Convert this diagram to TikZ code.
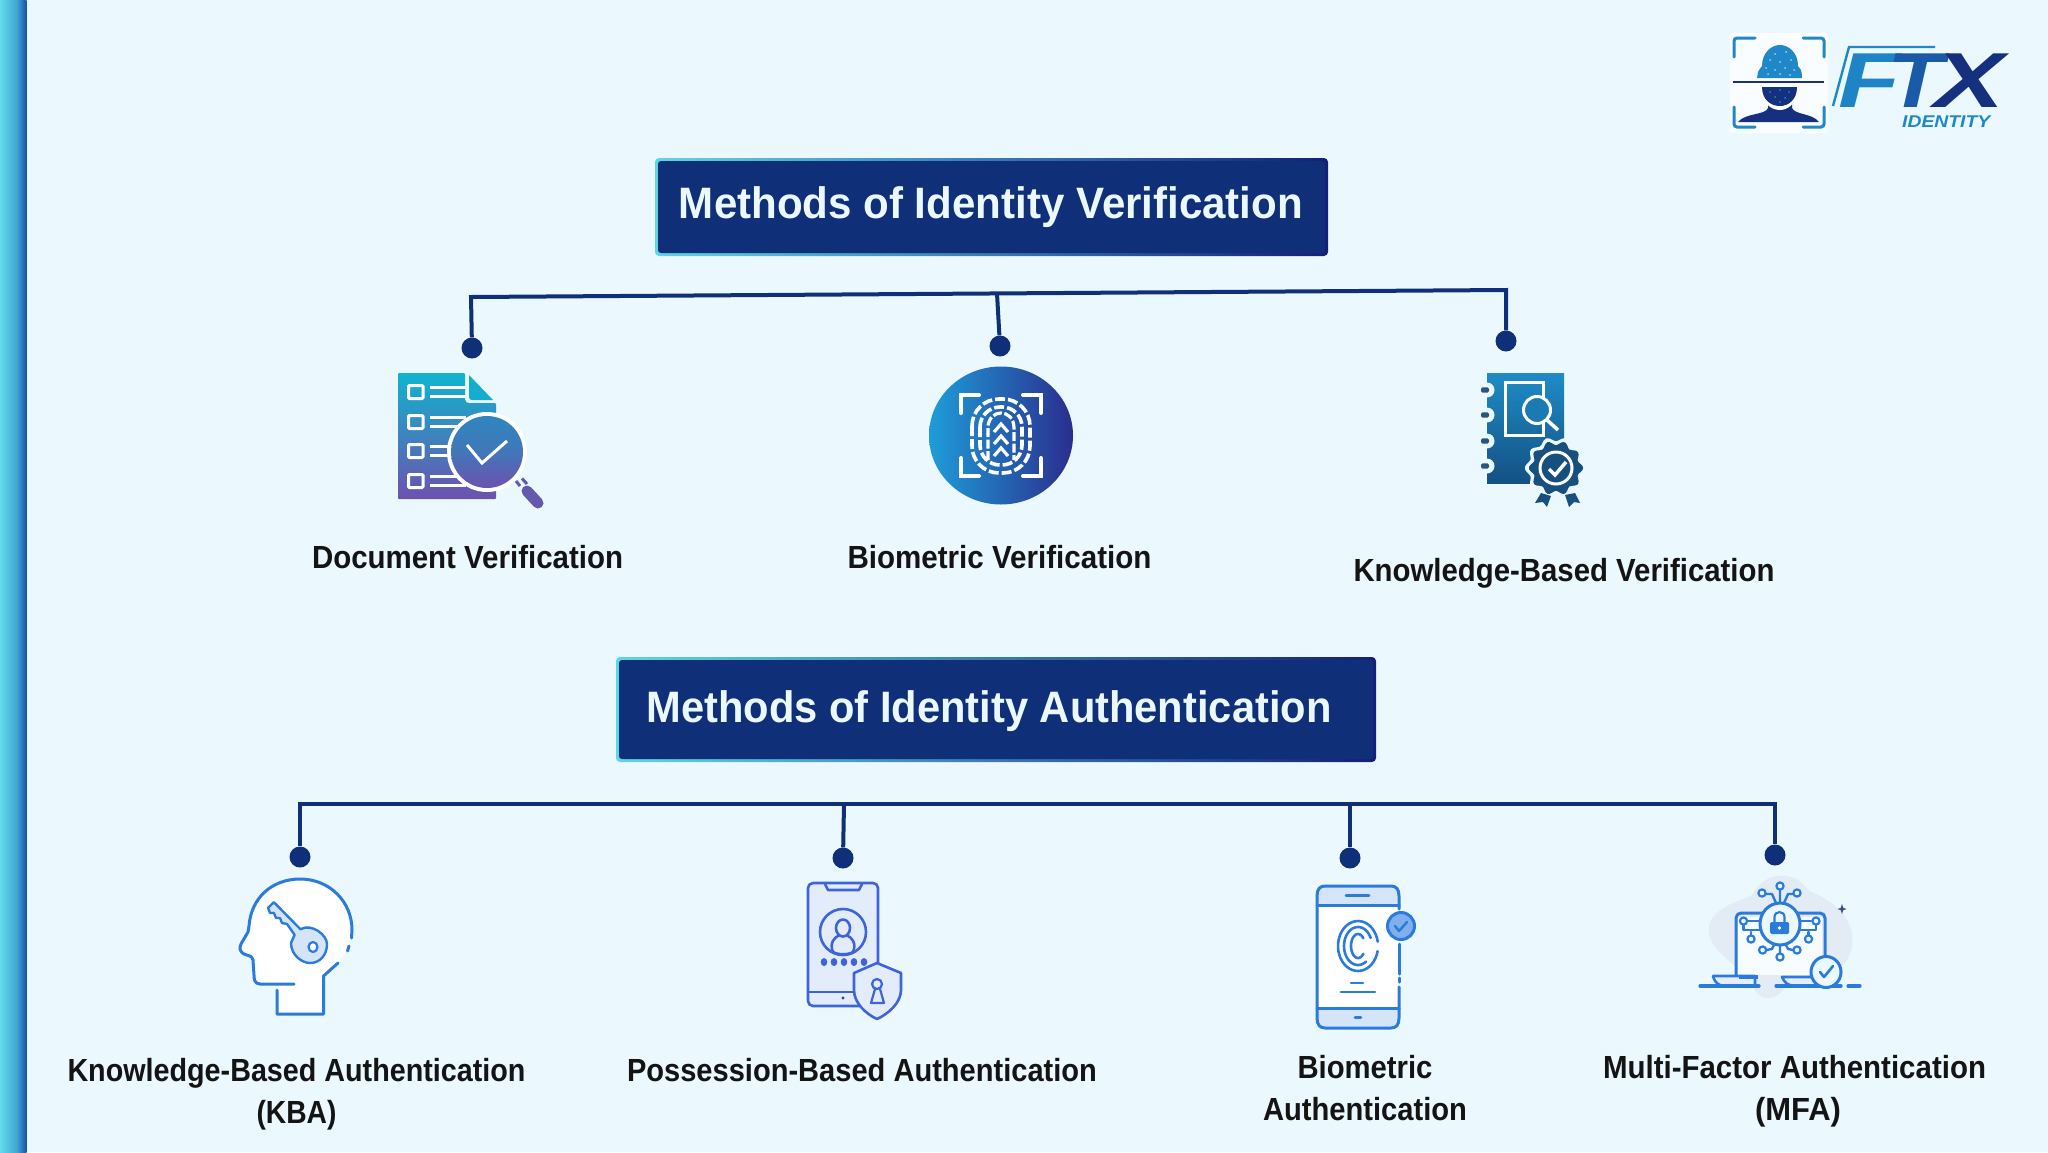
\documentclass[tikz,border=0pt]{standalone}
\usepackage{fontspec}
\usepackage{graphicx}
\setmainfont{Liberation Sans}
\usetikzlibrary{calc}
\definecolor{bgc}{HTML}{EBF9FF}
\definecolor{navy}{HTML}{0F2F78}
\definecolor{cyanb}{HTML}{5FD6E6}
\definecolor{midb}{HTML}{1A58AE}
\definecolor{deepb}{HTML}{141E7C}
\definecolor{barA}{HTML}{62DCE9}
\definecolor{barB}{HTML}{3FA5D2}
\definecolor{barC}{HTML}{1B4FA8}
\definecolor{lab}{HTML}{141414}
\definecolor{docA}{HTML}{10B4CF}
\definecolor{docB}{HTML}{2F86BE}
\definecolor{docC}{HTML}{6C52AE}
\definecolor{hnd}{HTML}{6459B0}
\definecolor{fpA}{HTML}{1E9DD8}
\definecolor{fpB}{HTML}{1B74BE}
\definecolor{fpC}{HTML}{2A2E8E}
\definecolor{nbT}{HTML}{1E8CC6}
\definecolor{nbB}{HTML}{145084}
\definecolor{nbD}{HTML}{17507F}
\definecolor{ic}{HTML}{2B7BDD}
\definecolor{icl}{HTML}{D5E5F8}
\definecolor{blob}{HTML}{E3EBF5}
\definecolor{ip}{HTML}{3F63D8}
\definecolor{ipl}{HTML}{E2ECFA}
\definecolor{logoB}{HTML}{1E88C8}
\definecolor{logoM}{HTML}{1A5BA8}
\definecolor{logoN}{HTML}{14307F}
\newcommand{\fitw}[2]{\resizebox{#1pt}{\height}{#2}}
\tikzset{
  headfill/.style={fill=navy,rounded corners=3pt,draw=none,inner sep=0pt},
  headtext/.style={anchor=base,inner sep=0pt,text=bgc,font=\fontsize{44}{50}\selectfont\bfseries},
  labeltext/.style={anchor=base,inner sep=0pt,text=lab,font=\fontsize{32}{38}\selectfont\bfseries},
  dotnode/.style={circle,fill=navy,inner sep=0pt,minimum size=21pt},
  conn/.style={draw=navy,line width=4pt,line join=miter},
  wl/.style={draw=white,line width=3pt},
  icline/.style={draw=ic,line width=3pt,line cap=round,line join=round},
  ipline/.style={draw=ip,line width=2.6pt,line cap=round,line join=round},
  fingerdash/.style={draw=white,line width=3.6pt,dash pattern=on 10pt off 3pt},
}
\begin{document}
\begin{tikzpicture}[x=1pt,y=-1pt]
\useasboundingbox (0,0) rectangle (2048,1152);
\fill[bgc] (0,0) rectangle (2048,1152);
\shade[left color=barA,right color=barB] (0,0) rectangle (17,1152);
\shade[left color=barB,right color=barC] (16.8,0) rectangle (26.5,1152);

% ---------- heading 1
\shade[rounded corners=4pt,left color=cyanb,middle color=midb,right color=deepb] (655,158) rectangle (1328,256);
\node[headfill,minimum width=667pt,minimum height=92pt] (h1) at (991.5,207) {};
\node[headtext] (h1t) at (991,218) {\fitw{624}{Methods of Identity Verification}};
% ---------- heading 2
\shade[rounded corners=4pt,left color=cyanb,middle color=midb,right color=deepb] (616,657) rectangle (1376,762);
\node[headfill,minimum width=754pt,minimum height=99pt] (h2) at (996,709.5) {};
\node[headtext] (h2t) at (989,722) {\fitw{685}{Methods of Identity Authentication}};

% ---------- connectors top
\coordinate (t1a) at (471,297);
\coordinate (t1b) at (1506,290);
\coordinate (t1m) at (997,293.5);
\node[dotnode] (d1) at (472,348) {};
\node[dotnode] (d2) at (1000,346) {};
\node[dotnode] (d3) at (1506,341) {};
\draw[conn] (d1) -- (t1a) -- (t1b) -- (d3);
\draw[conn] (t1m) -- (d2);
% ---------- connectors bottom
\coordinate (t2a) at (300,804);
\coordinate (t2b) at (1775,804);
\coordinate (t2c) at (844,804);
\coordinate (t2d) at (1350,804);
\node[dotnode] (e1) at (300,857) {};
\node[dotnode] (e2) at (843,858) {};
\node[dotnode] (e3) at (1350,858) {};
\node[dotnode] (e4) at (1775,855) {};
\draw[conn] (e1) -- (t2a) -- (t2b) -- (e4);
\draw[conn] (t2c) -- (e2);
\draw[conn] (t2d) -- (e3);

% ---------- labels
\node[labeltext] (l1) at (467.5,568) {\fitw{311}{Document Verification}};
\node[labeltext] (l2) at (999.5,568) {\fitw{304}{Biometric Verification}};
\node[labeltext] (l3) at (1564,581.5) {\fitw{421}{Knowledge-Based Verification}};
\node[labeltext] (l4) at (296.5,1081) {\fitw{458}{Knowledge-Based Authentication}};
\node[labeltext] (l4b) at (296.5,1123) {\fitw{80}{(KBA)}};
\node[labeltext] (l5) at (862,1081) {\fitw{470}{Possession-Based Authentication}};
\node[labeltext] (l6) at (1365,1078) {\fitw{135}{Biometric}};
\node[labeltext] (l6b) at (1365,1120.5) {\fitw{204}{Authentication}};
\node[labeltext] (l7) at (1794.5,1078) {\fitw{383}{Multi-Factor Authentication}};
\node[labeltext] (l7b) at (1798,1120.5) {\fitw{86}{(MFA)}};

% ---------- icon: document
\shade[top color=docA,middle color=docB,bottom color=docC,rounded corners=1pt]
  (398,373) -- (465,373) -- (465,398) .. controls (465,402) and (467,403) .. (470,403) -- (496,403) -- (496,499) -- (398,499) -- cycle;
\fill[docA!85!docB] (469,375) -- (493,400) -- (472,400) .. controls (470,400) and (469,399) .. (469,397) -- cycle;
\foreach \yy in {384,414,443,473}{
  \draw[wl,line width=3pt,rounded corners=1pt] (408.5,\yy+1.5) rectangle (423,\yy+14.5);
  \draw[wl] (430,\yy+3) -- (466,\yy+3) (430,\yy+12) -- (466,\yy+12);
}
\fill[white] (487,452) circle (40);
\shade[top color=docB,bottom color=docC,middle color=docB!70!docC] (487,452) circle (36);
\draw[white,line width=3pt,line join=miter] (467,445) -- (482,463) -- (507,441);
\draw[hnd,line width=3pt] (516,481) -- (520,486) (522,478.5) -- (527,484);
\draw[hnd,line width=11pt,line cap=round] (527,491) -- (538,503);

% ---------- icon: fingerprint
\shade[left color=fpA,middle color=fpB,right color=fpC] (1001,435.5) ellipse [x radius=72,y radius=69];
\draw[wl,line width=4pt,line cap=round]
  (961,413) -- (961,395) -- (979,395)
  (1041,413) -- (1041,395) -- (1023,395)
  (961,458) -- (961,476) -- (979,476)
  (1041,458) -- (1041,476) -- (1023,476);
\draw[fingerdash,rounded corners=27pt] (972,399) rectangle (1030,473);
\draw[fingerdash,rounded corners=20pt] (980,407) rectangle (1022,465);
\draw[fingerdash,line width=3.2pt,dash pattern=on 9pt off 2.5pt] (988,460) -- (988,428) .. controls (988,408) and (1014,408) .. (1014,428) -- (1014,460);
\draw[white,line width=3.2pt] (994,432) -- (1001,424) -- (1008,432) (994,444) -- (1001,436) -- (1008,444) (994,456) -- (1001,448) -- (1008,456);

% ---------- icon: notebook
\shade[top color=nbT,bottom color=nbB] (1487,373) rectangle (1564,483);
\foreach \yy in {390,415,441,466}{
  \fill[bgc] (1487,\yy) circle (7.5);
  \fill[nbD!85!gray,rounded corners=1.5pt] (1481,\yy-2.7) rectangle (1489,\yy+2.7);
}
\draw[wl] (1505,382) rectangle (1543,435);
\fill[nbT!70!nbB] (1537,410) circle (14.5);
\draw[wl] (1537,410) circle (13.5);
\draw[wl,line width=3.5pt] (1547,420) -- (1558,430);
\fill[bgc] plot[smooth cycle,samples=73,domain=0:355] ({1556+(29+2.2*cos(10*\x))*cos(\x)},{468+(29+2.2*cos(10*\x))*sin(\x)});
\fill[nbD] plot[smooth cycle,samples=73,domain=0:355] ({1556+(25+2.2*cos(10*\x))*cos(\x)},{468+(25+2.2*cos(10*\x))*sin(\x)});
\draw[wl] (1556,468) circle (16);
\draw[white,line width=3.5pt,line join=miter] (1549,469) -- (1555,475) -- (1566,462);
\fill[nbD] (1541,493) -- (1535,503) -- (1543,502) -- (1547,507) -- (1551,496) -- cycle;
\fill[nbD] (1565,495) -- (1575,493) -- (1580,503) -- (1574,502) -- (1569,507) -- cycle;

% ---------- icon: head with key
\fill[white] (277,1014) -- (277,985) -- (260,984) .. controls (254,984) and (254,978) .. (254,977) -- (252,957) -- (242,953) -- (240,947) -- (249,930) .. controls (249,900) and (272,879) .. (300,879) .. controls (330,879) and (352,902) .. (352,930) .. controls (352,950) and (340,960) .. (323.5,975) -- (323.5,1014) -- cycle;
\draw[icline] (294,984) -- (260,984) .. controls (254,984) and (254,978) .. (254,975) -- (253,960) .. controls (252,955) and (248,956) .. (244,954) .. controls (240,952) and (239,948) .. (241,944) -- (248,932) -- (249,926) .. controls (251,898) and (272,879) .. (300,879) .. controls (330,879) and (352,902) .. (352,930) -- (351.5,938);
\draw[icline] (349,946) -- (347.5,951);
\draw[icline] (338,963) -- (323.5,976) -- (323.5,1014) -- (277,1014) -- (277,990);
\draw[icline,fill=icl,line width=2.4pt] (300.4,929.2) -- (273.9,902.2) -- (268.1,907.8) -- (270,913) -- (274,913) -- (276,918) -- (280,918) -- (282,923) -- (287,924) -- (294.6,934.8) -- (291,943) .. controls (291,955) and (302,963) .. (310,963) .. controls (320,963) and (327,955) .. (327,944) .. controls (327,935) and (312,923) .. cycle;
\draw[icline,line width=2.2pt,fill=white] (313,947) ellipse [x radius=4.5,y radius=5];

% ---------- icon: phone with shield
\draw[ipline,fill=ipl,rounded corners=5pt] (808,883) rectangle (878,1006);
\draw[ipline] (825,884) -- (828,890) -- (859,890) -- (862,884);
\draw[ipline] (808,992) -- (878,992);
\fill[ip!70!black] (843,998) circle (1.6);
\draw[ipline] (843,932) circle (23);
\draw[ipline] (843,928) ellipse [x radius=7,y radius=8.5];
\draw[ipline] (833,952) .. controls (829,943) and (835,937) .. (838,936) (848,936) .. controls (851,937) and (857,943) .. (853,952) (833,952) .. controls (838,955) and (848,955) .. (853,952);
\foreach \xx in {824,834,844,854,864} {\fill[ip] (\xx,962) ellipse [x radius=3.3,y radius=4];}
\draw[ipline,fill=ipl] (877,963) -- (901,973) -- (901,990) .. controls (901,1003) and (888,1014) .. (877,1019) .. controls (866,1014) and (854,1003) .. (854,990) -- (854,973) -- cycle;
\draw[ipline,line width=2.2pt] (877,984) circle (5) (875,989) -- (871,1003) -- (884,1003) -- (880,989);

% ---------- icon: phone with fingerprint
\fill[white,rounded corners=6pt] (1317,886) rectangle (1399,1028);
\fill[icl,rounded corners=6pt] (1317,886) -- (1399,886) -- (1399,905) -- (1317,905) -- cycle;
\fill[icl,rounded corners=6pt] (1317,1008) -- (1399,1008) -- (1399,1028) -- (1317,1028) -- cycle;
\draw[icline] (1399,909) -- (1399,896) .. controls (1399,889) and (1396,886) .. (1391,886) -- (1325,886) .. controls (1320,886) and (1317,889) .. (1317,896) -- (1317,1018) .. controls (1317,1025) and (1320,1028) .. (1325,1028) -- (1391,1028) .. controls (1396,1028) and (1399,1025) .. (1399,1018) -- (1399,987);
\draw[icline] (1399,944) -- (1399,974) (1399,978) -- (1399,982);
\draw[icline] (1317,905) -- (1399,905) (1317,1008) -- (1399,1008);
\draw[icline,line width=2.6pt] (1346,895.7) -- (1369,895.7) (1355,1017.7) -- (1361,1017.7) (1351,983) -- (1363,983) (1341,992) -- (1375,992);
\draw[icline,fill=ic!60!white] (1401,926) circle (13.5);
\draw[icline,line width=2.4pt] (1395,926) -- (1399,931) -- (1407,922);
\draw[icline,line width=2.6pt] plot[smooth,samples=40,domain=12:350] ({1358+20*cos(\x)},{946+25*sin(\x)});
\draw[icline,line width=2.6pt] plot[smooth,samples=40,domain=55:335] ({1358+14*cos(\x)},{946+19*sin(\x)});
\draw[icline,line width=2.6pt] plot[smooth,samples=30,domain=40:320] ({1358+7*cos(\x)},{946+12*sin(\x)});

% ---------- icon: laptop
\fill[blob] (1709,925) .. controls (1715,905) and (1745,900) .. (1752,895) .. controls (1765,870) and (1795,870) .. (1808,890) .. controls (1830,900) and (1855,915) .. (1852,945) .. controls (1850,970) and (1820,985) .. (1785,985) .. controls (1780,1000) and (1760,1005) .. (1752,985) .. controls (1735,960) and (1705,950) .. (1709,925) -- cycle;
\fill[bgc!40!white] (1738,917) rectangle (1822,975);
\draw[icline,rounded corners=5pt] (1736,975) -- (1736,913) -- (1825,913) -- (1825,955);
\draw[icline,fill=icl!60!white,line width=2.6pt] (1713,976) -- (1755,976) -- (1755,986) -- (1722,986) .. controls (1716,984) and (1714,980) .. (1713,976);
\fill[ic] (1739,975) rectangle (1758,979);
\draw[icline,fill=icl!60!white,line width=2.6pt] (1782,977) .. controls (1784,982) and (1788,986) .. (1795,986) -- (1830,986) -- (1830,977) -- cycle;
\draw[icline,line width=3.2pt] (1700,986) -- (1759,986) (1776,986) -- (1841,986) (1848,986) -- (1860,986);
\draw[icline,line width=2.4pt] (1780,890) -- (1780,903) (1766,894) -- (1772,894) -- (1776,903) (1793,894) -- (1788,894) -- (1784,903);
\draw[icline,line width=2.4pt] (1780,945) -- (1780,953) (1766,950) -- (1772,949) -- (1775,943) (1793,950) -- (1788,949) -- (1785,943);
\draw[icline,line width=2.4pt] (1743.5,925) -- (1743.5,930) -- (1760,930) (1751,935) -- (1751,932) (1816,925) -- (1816,930) -- (1800,930) (1808.5,935) -- (1808.5,932) (1748,921) -- (1760,921) (1811,921) -- (1800,921);
\draw[icline,fill=bgc] (1780,924) ellipse [x radius=20,y radius=21];
\foreach \cx/\cy in {1780/886,1762/893,1797/893,1743.5/921,1816/921,1751/939,1808.5/939,1762.6/950,1797/950,1780/957}{
  \draw[icline,line width=2.2pt,fill=bgc] (\cx,\cy) circle (3.6);
}
\fill[ic,rounded corners=1.5pt] (1770,922) rectangle (1789,934);
\draw[ic,line width=2.2pt] (1774.5,923) -- (1774.5,917) .. controls (1774.5,910.5) and (1784.5,910.5) .. (1784.5,917) -- (1784.5,923);
\fill[white] (1779.5,928) circle (1.8);
\draw[icline,fill=bgc,line width=3pt] (1826,972) ellipse [x radius=15,y radius=15.5];
\draw[icline,line width=2.6pt] (1820,972) -- (1824,977) -- (1833,966);
\fill[logoN!60!gray] (1842,904) -- (1843.2,907.8) -- (1846.5,909) -- (1843.2,910.2) -- (1842,914) -- (1840.8,910.2) -- (1837.5,909) -- (1840.8,907.8) -- cycle;

% ---------- logo
\fill[white!70!bgc,rounded corners=3pt] (1730,33) rectangle (1828,133);
\draw[logoB,line width=3pt,line cap=round,rounded corners=3pt]
  (1734,57) -- (1734,38) -- (1755,38)
  (1824,57) -- (1824,38) -- (1803,38)
  (1734,107) -- (1734,127) -- (1755,127)
  (1824,107) -- (1824,127) -- (1803,127);
\fill[logoB] (1757,78) -- (1758,72) .. controls (1759,69) and (1761,68) .. (1762,66) .. controls (1762,52) and (1772,45) .. (1780,45) .. controls (1788,45) and (1798,52) .. (1798,66) .. controls (1800,68) and (1802,70) .. (1802,78) -- cycle;
\foreach \px/\py in {1775/54,1786/52,1770/60,1780/62,1791/60,1766/68,1775/70,1785/68,1794/70,1768/74,1780/74,1790/75}{\fill[white!60!logoB] (\px,\py) circle (1);}
\draw[logoN,line width=2.6pt] (1733,82) -- (1824,82);
\fill[logoN] (1768,100) -- (1768,108) .. controls (1766,115) and (1745,113) .. (1738,122) -- (1819,122) .. controls (1812,113) and (1795,115) .. (1792,108) -- (1792,100) -- cycle;
\fill[white] (1761,87) -- (1798,87) .. controls (1798,103) and (1788,110) .. (1780,110) .. controls (1771,110) and (1761,103) .. cycle;
\fill[logoN] (1762,87) -- (1797,87) .. controls (1797,100) and (1788,106) .. (1780,106) .. controls (1771,106) and (1762,100) .. cycle;
\foreach \px/\py in {1770/92,1780/90,1789/92,1775/97,1785/98,1780/102}{\fill[logoB] (\px,\py) circle (1);}
\draw[logoB,line width=2.4pt] (1833,106) -- (1849,47) -- (1935,47);
\node[anchor=base west,inner sep=0pt,text=logoB!90!logoM,font=\fontsize{78}{78}\selectfont\bfseries\itshape] (lf) at (1838,107) {\fitw{62}{F}};
\node[anchor=base west,inner sep=0pt,text=logoM,font=\fontsize{78}{78}\selectfont\bfseries\itshape] (lt) at (1887,107) {\fitw{56}{T}};
\node[anchor=base west,inner sep=0pt,text=logoN,font=\fontsize{78}{78}\selectfont\bfseries\itshape] (lx) at (1934,107) {\fitw{70}{X}};
\node[anchor=base west,inner sep=0pt,text=logoB,font=\fontsize{17}{17}\selectfont\bfseries\itshape] (li) at (1902,127) {\fitw{88}{IDENTITY}};
\end{tikzpicture}
\end{document}
